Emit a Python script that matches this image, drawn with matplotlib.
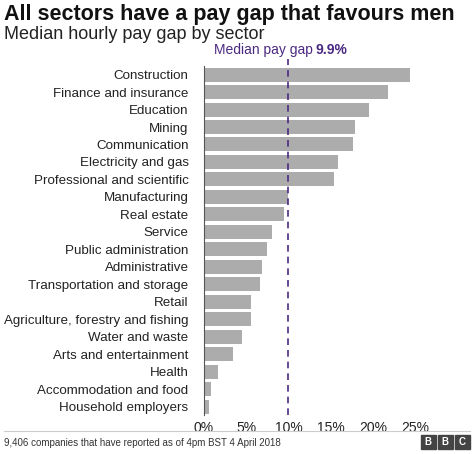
import matplotlib
matplotlib.use("Agg")
import matplotlib.pyplot as plt
from matplotlib.patches import Rectangle

sectors = ["Construction","Finance and insurance","Education","Mining","Communication",
           "Electricity and gas","Professional and scientific","Manufacturing","Real estate",
           "Service","Public administration","Administrative","Transportation and storage",
           "Retail","Agriculture, forestry and fishing","Water and waste","Arts and entertainment",
           "Health","Accommodation and food","Household employers"]
gaps = [24.3,21.7,19.5,17.8,17.6,15.8,15.3,9.9,9.5,8.0,7.4,6.9,6.6,5.6,5.6,4.5,3.5,1.7,0.9,0.6]
median = 9.9
ticks = [0,5,10,15,20,25]
tick_labels = ["0%","5%","10%","15%","20%","25%"]

plt.rcParams['font.family'] = ['Liberation Sans','DejaVu Sans']
fig = plt.figure(figsize=(4.74,4.54), dpi=100)
ax = fig.add_axes([0.43,0.085,0.456,0.77])
y = list(range(len(sectors)))
ax.barh(y, gaps, height=0.8, color="#acacac")
ax.set_yticks(y)
ax.set_yticklabels(sectors, fontsize=9.6, color="#222222")
ax.set_ylim(len(sectors)-0.5, -0.5)
ax.set_xlim(0,25.5)
ax.set_xticks(ticks)
ax.set_xticklabels(tick_labels, fontsize=10, color="#222222")
ax.tick_params(axis="y", length=0, pad=11)
ax.tick_params(axis="x", length=0, pad=4)
for s in ["top","right","bottom"]:
    ax.spines[s].set_visible(False)
ax.spines["left"].set_color("#555555")
ax.axvline(median, color="#4b2a82", ls=(0,(4,3)), lw=1.2, ymin=0, ymax=1.02, clip_on=False)
ax.text(12.9, -1.0, "Median pay gap", ha="right", va="bottom", fontsize=10, color="#4b2a82")
ax.text(13.2, -1.0, "9.9%", ha="left", va="bottom", fontsize=10, color="#4b2a82", fontweight="bold")

fig.text(0.008,0.968,"All sectors have a pay gap that favours men", fontsize=15.5, fontweight="bold", va="center", color="#111111")
fig.text(0.008,0.925,"Median hourly pay gap by sector", fontsize=13, va="center", color="#222222")
fig.add_artist(plt.Line2D([0.008,0.992],[0.05,0.05], color="#cccccc", lw=0.8))
fig.text(0.008,0.025,"9,406 companies that have reported as of 4pm BST 4 April 2018", fontsize=7, va="center", color="#333333")
for i,ch in enumerate("BBC"):
    x0 = 0.888 + i*0.036
    fig.add_artist(Rectangle((x0,0.01),0.031,0.032, transform=fig.transFigure, color="#444444"))
    fig.text(x0+0.0155,0.026,ch, fontsize=7, fontweight="bold", color="white", ha="center", va="center")
fig.savefig("out.png", dpi=100)
